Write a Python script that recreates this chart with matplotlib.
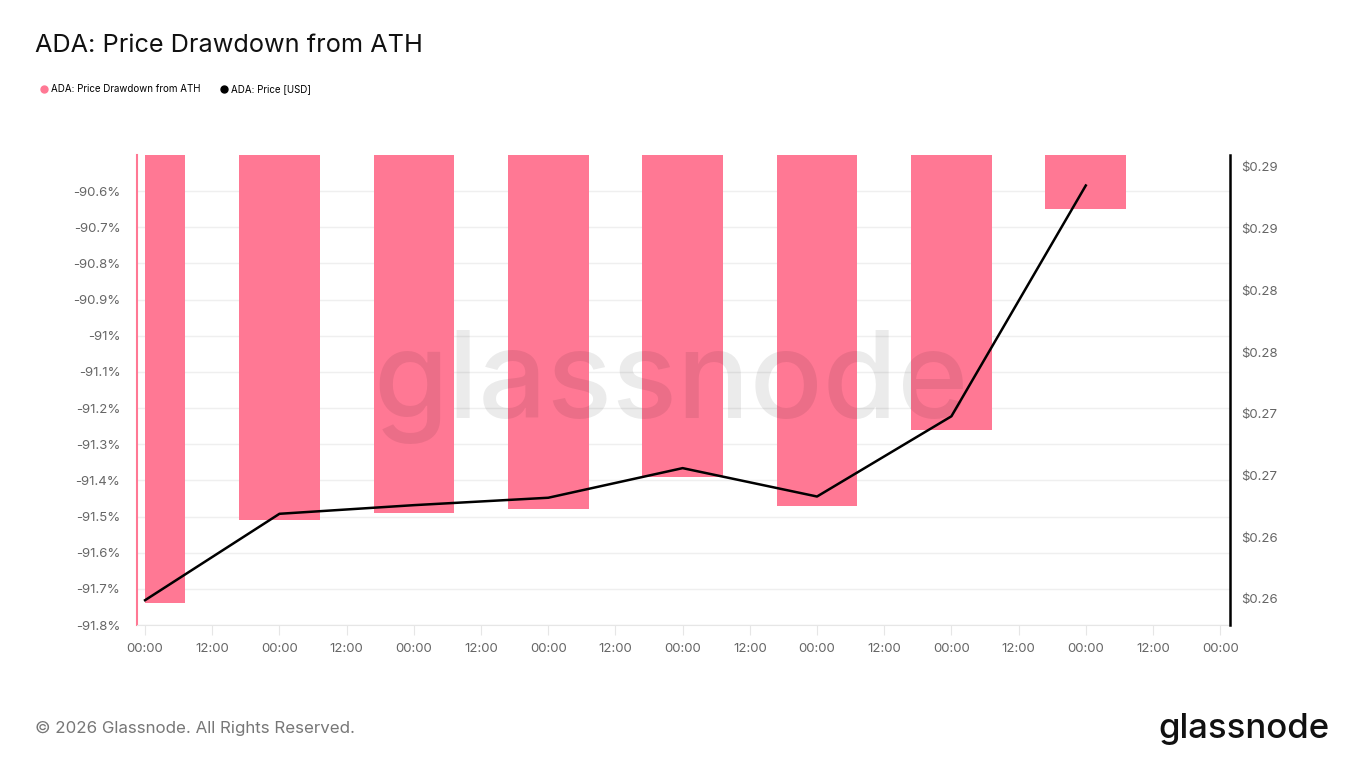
import matplotlib
matplotlib.use("Agg")
import matplotlib.pyplot as plt
import numpy as np
from matplotlib.lines import Line2D

# ---- data ----
day_index = [0, 1, 2, 3, 4, 5, 6, 7]
drawdown_pct = [-91.74, -91.51, -91.49, -91.48, -91.39, -91.47, -91.26, -90.65]
price_usd = [0.2549, 0.2619, 0.2626, 0.2632, 0.2656, 0.2633, 0.2698, 0.2885]

x_tick_pos = [i * 0.5 for i in range(17)]
x_tick_labels = ["00:00" if i % 2 == 0 else "12:00" for i in range(17)]
left_ticks = [-90.6, -90.7, -90.8, -90.9, -91.0, -91.1, -91.2, -91.3, -91.4, -91.5, -91.6, -91.7, -91.8]
left_tick_labels = ["-90.6%", "-90.7%", "-90.8%", "-90.9%", "-91%", "-91.1%", "-91.2%",
                    "-91.3%", "-91.4%", "-91.5%", "-91.6%", "-91.7%", "-91.8%"]
right_ticks = [0.255, 0.26, 0.265, 0.27, 0.275, 0.28, 0.285, 0.29]
right_tick_labels = ["$0.26", "$0.26", "$0.27", "$0.27", "$0.28", "$0.28", "$0.29", "$0.29"]

PINK = "#ff7894"
GRAY = "#666666"
plt.rcParams['font.family'] = ['Inter', 'DejaVu Sans']

fig = plt.figure(figsize=(13.66, 7.68), dpi=100)
ax = fig.add_axes([137/1366, 1-625/768, (1230-137)/1366, (625-155)/768])

bar_w = 0.6
lefts = [max(d - bar_w/2, 0) for d in day_index]
rights = [d + bar_w/2 for d in day_index]
widths = [r - l for l, r in zip(lefts, rights)]
ax.bar(lefts, drawdown_pct, width=widths, align='edge', color=PINK, zorder=2)

ax.set_xlim(-0.06, 8.073)
ax.set_ylim(-91.8, -90.5)
ax.set_yticks(left_ticks)
ax.set_yticklabels(left_tick_labels)
ax.set_xticks(x_tick_pos)
ax.set_xticklabels(x_tick_labels)
ax.tick_params(axis='y', length=0, labelsize=9.5, labelcolor=GRAY, pad=12)
ax.tick_params(axis='x', length=7, color="#e6e6e6", labelsize=9.5, labelcolor=GRAY, pad=6)
ax.grid(axis='y', color="#efefef", lw=1, zorder=0)
for s in ['top', 'right']:
    ax.spines[s].set_visible(False)
ax.spines['left'].set_color(PINK)
ax.spines['left'].set_linewidth(1.5)
ax.spines['bottom'].set_color("#e6e6e6")

ax2 = ax.twinx()
ax2.plot(day_index, price_usd, color="black", lw=1.8, zorder=3)
ax2.set_ylim(0.25289, 0.29097)
ax2.set_yticks(right_ticks)
ax2.set_yticklabels(right_tick_labels)
ax2.tick_params(axis='y', length=0, labelsize=9.5, labelcolor=GRAY, pad=8)
for s in ['top', 'left', 'bottom']:
    ax2.spines[s].set_visible(False)
ax2.spines['right'].set_color("black")
ax2.spines['right'].set_linewidth(1.8)

# watermark
fig.text(671/1366, 1-418/768, "glassnode", fontsize=87, color="black", alpha=0.08,
         ha='center', va='baseline', zorder=10, fontweight='medium')

# title & legend
fig.text(35/1366, 1-46/768, "ADA: Price Drawdown from ATH", fontsize=18.2, color="#111111",
         ha='left', va='center')
handles = [Line2D([], [], marker='o', ls='', color=PINK, markersize=5),
           Line2D([], [], marker='o', ls='', color='black', markersize=5)]
fig.legend(handles, ["ADA: Price Drawdown from ATH", "ADA: Price [USD]"],
           loc='center left', bbox_to_anchor=(30/1366, 1-89/768), ncol=2, frameon=False,
           fontsize=7, handletextpad=0.25, columnspacing=1.9, handlelength=1.0)

# footer
fig.text(35/1366, 1-728/768, "© 2026 Glassnode. All Rights Reserved.", fontsize=12.2,
         color="#777777", ha='left', va='center')
fig.text(1330/1366, 1-729/768, "glassnode", fontsize=25, color="#111111", ha='right',
         va='center', fontweight='medium')

fig.savefig("out.png", dpi=100)
